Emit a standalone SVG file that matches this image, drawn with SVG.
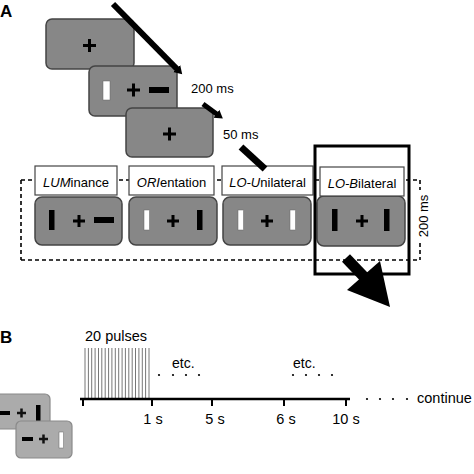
<svg xmlns="http://www.w3.org/2000/svg" width="474" height="474" viewBox="0 0 474 474">
<style>
  text { font-family: "Liberation Sans", Arial, sans-serif; fill: #000; }
  .gbox { fill: #878787; stroke: #444; stroke-width: 1.5; }
  .lbox { fill: #fff; stroke: #444; stroke-width: 1.2; }
  .sbox { fill: #ababab; stroke: #8a8a8a; stroke-width: 1.2; }
  .plus { stroke: #000; stroke-width: 3; fill: none; }
  .plus2 { stroke: #111; stroke-width: 2.5; fill: none; }
  .bk { fill: #000; }
  .wh { fill: #fff; stroke: #666; stroke-width: 0.5; }
  .lbl { font-size: 13px; text-anchor: middle; }
  .ax { font-size: 14.5px; text-anchor: middle; }
  .dash { stroke: #000; stroke-width: 1.6; stroke-dasharray: 4 3; fill: none; }
  .pulse { stroke: #777; stroke-width: 1; }
  .dot { fill: #000; }
  .tag { font-size: 17px; font-weight: bold; }
</style>
<defs>
  <marker id="head" markerUnits="userSpaceOnUse" markerWidth="12" markerHeight="12" refX="2" refY="5" orient="auto">
    <path d="M0,0 L8,5 L0,10 z" fill="#000"/>
  </marker>
</defs>

<rect width="474" height="474" fill="#fff"/>

<text class="tag" x="0" y="17">A</text>
<text class="tag" x="0" y="343">B</text>

<!-- dashed frame -->
<g id="dashed-frame">
  <line class="dash" x1="21" y1="180" x2="420" y2="180"/>
  <line class="dash" x1="21" y1="180" x2="21" y2="260"/>
  <line class="dash" x1="21" y1="260" x2="420" y2="260"/>
  <line class="dash" x1="420" y1="180" x2="420" y2="190"/>
  <line class="dash" x1="420" y1="243" x2="420" y2="260"/>
  <text transform="translate(428,216) rotate(-90)" style="font-size:13px;text-anchor:middle">200 ms</text>
</g>

<!-- sequence screens -->
<g id="screen1">
  <rect class="gbox" x="46" y="19" width="88" height="50" rx="6"/>
  <path class="plus" d="M83,45.5 H96 M89.5,39 V52"/>
</g>
<g id="screen2">
  <rect class="gbox" x="89" y="66" width="88" height="50" rx="6"/>
  <rect class="wh" x="103" y="81" width="7" height="19"/>
  <path class="plus" d="M127,90 H140 M133.5,83.5 V96.5"/>
  <rect class="bk" x="149" y="87" width="20" height="6"/>
</g>
<g id="screen3">
  <rect class="gbox" x="126" y="108" width="87" height="49" rx="6"/>
  <path class="plus" d="M163,134 H176 M169.5,127.5 V140.5"/>
</g>

<text x="191" y="93" style="font-size:13px">200 ms</text>
<text x="223" y="139" style="font-size:13px">50 ms</text>

<!-- conditions -->
<g id="cond-lum">
  <rect class="gbox" x="35" y="197" width="87" height="48" rx="7"/>
  <rect class="lbox" x="35" y="166" width="82" height="29"/>
  <text class="lbl" x="76" y="187"><tspan font-style="italic">LUM</tspan>inance</text>
  <rect class="bk" x="49" y="210" width="5.5" height="20"/>
  <path class="plus" d="M73,221 H85 M79,215 V227"/>
  <rect class="bk" x="94" y="217" width="20" height="6"/>
</g>
<g id="cond-ori">
  <rect class="gbox" x="129" y="197" width="88" height="48" rx="7"/>
  <rect class="lbox" x="129" y="166" width="85" height="29"/>
  <text class="lbl" x="171.5" y="187"><tspan font-style="italic">ORI</tspan>entation</text>
  <rect class="wh" x="144" y="210" width="5.5" height="20"/>
  <path class="plus" d="M167,221 H179 M173,215 V227"/>
  <rect class="bk" x="197" y="210" width="5.5" height="20"/>
</g>
<g id="cond-lo-uni">
  <rect class="gbox" x="223" y="197" width="88" height="48" rx="7"/>
  <rect class="lbox" x="222" y="166" width="91" height="29"/>
  <text class="lbl" x="267.5" y="187"><tspan font-style="italic">LO-U</tspan>nilateral</text>
  <rect class="wh" x="238" y="210" width="5.5" height="20"/>
  <path class="plus" d="M261,221 H273 M267,215 V227"/>
  <rect class="wh" x="290" y="210" width="5.5" height="20"/>
</g>
<g id="cond-lo-bi">
  <rect class="gbox" x="317" y="196" width="88" height="50" rx="7"/>
  <rect class="lbox" x="320" y="167" width="84" height="29"/>
  <text class="lbl" x="362" y="188"><tspan font-style="italic">LO-B</tspan>ilateral</text>
  <rect class="bk" x="332" y="209" width="5.5" height="22"/>
  <path class="plus" d="M356,221 H368 M362,215 V227"/>
  <rect class="bk" x="384" y="209" width="5.5" height="22"/>
  <rect x="315" y="146" width="94" height="128" fill="none" stroke="#000" stroke-width="3"/>
</g>

<!-- connectors -->
<g id="connectors">
  <line x1="113" y1="4" x2="178" y2="70" stroke="#000" stroke-width="6" marker-end="url(#head)"/>
  <line x1="203" y1="104" x2="218" y2="115" stroke="#000" stroke-width="5" marker-end="url(#head)"/>
  <line x1="241" y1="147" x2="265" y2="169" stroke="#000" stroke-width="7"/>
  <line x1="346" y1="258" x2="368" y2="281" stroke="#000" stroke-width="11"/>
  <polygon points="347,290 380,261 390,307" fill="#000"/>
</g>

<!-- timeline -->
<g id="timeline">
  <g id="pulses">
    <line class="pulse" x1="85" y1="348" x2="85" y2="399"/>
    <line class="pulse" x1="88.4" y1="348" x2="88.4" y2="399"/>
    <line class="pulse" x1="91.7" y1="348" x2="91.7" y2="399"/>
    <line class="pulse" x1="95.1" y1="348" x2="95.1" y2="399"/>
    <line class="pulse" x1="98.5" y1="348" x2="98.5" y2="399"/>
    <line class="pulse" x1="101.8" y1="348" x2="101.8" y2="399"/>
    <line class="pulse" x1="105.2" y1="348" x2="105.2" y2="399"/>
    <line class="pulse" x1="108.6" y1="348" x2="108.6" y2="399"/>
    <line class="pulse" x1="111.9" y1="348" x2="111.9" y2="399"/>
    <line class="pulse" x1="115.3" y1="348" x2="115.3" y2="399"/>
    <line class="pulse" x1="118.7" y1="348" x2="118.7" y2="399"/>
    <line class="pulse" x1="122.1" y1="348" x2="122.1" y2="399"/>
    <line class="pulse" x1="125.4" y1="348" x2="125.4" y2="399"/>
    <line class="pulse" x1="128.8" y1="348" x2="128.8" y2="399"/>
    <line class="pulse" x1="132.2" y1="348" x2="132.2" y2="399"/>
    <line class="pulse" x1="135.5" y1="348" x2="135.5" y2="399"/>
    <line class="pulse" x1="138.9" y1="348" x2="138.9" y2="399"/>
    <line class="pulse" x1="142.3" y1="348" x2="142.3" y2="399"/>
    <line class="pulse" x1="145.6" y1="348" x2="145.6" y2="399"/>
    <line class="pulse" x1="149" y1="348" x2="149" y2="399"/>
  </g>
  <line x1="80" y1="399" x2="350" y2="399" stroke="#000" stroke-width="2.5"/>
  <path d="M83,399 V406 M152,399 V406 M212,399 V406 M284,399 V406 M346,399 V406" stroke="#000" stroke-width="2"/>
  <text x="85" y="341" style="font-size:14.5px">20 pulses</text>
  <text x="172" y="368" style="font-size:14px">etc.</text>
  <text x="293" y="368" style="font-size:14px">etc.</text>
  <circle class="dot" cx="159" cy="375" r="1.1"/>
  <circle class="dot" cx="173" cy="375" r="1.1"/>
  <circle class="dot" cx="186" cy="375" r="1.1"/>
  <circle class="dot" cx="199" cy="375" r="1.1"/>
  <circle class="dot" cx="293" cy="375" r="1.1"/>
  <circle class="dot" cx="306" cy="375" r="1.1"/>
  <circle class="dot" cx="319" cy="375" r="1.1"/>
  <circle class="dot" cx="332" cy="375" r="1.1"/>
  <circle class="dot" cx="367" cy="399" r="1.1"/>
  <circle class="dot" cx="380" cy="399" r="1.1"/>
  <circle class="dot" cx="393" cy="399" r="1.1"/>
  <circle class="dot" cx="407" cy="399" r="1.1"/>
  <text class="ax" x="153" y="424">1 s</text>
  <text class="ax" x="215" y="424">5 s</text>
  <text class="ax" x="286" y="424">6 s</text>
  <text class="ax" x="346" y="424">10 s</text>
  <text x="417" y="403" style="font-size:14.5px">continue</text>
</g>

<!-- small screens -->
<g id="small-screen1">
  <rect class="sbox" x="-6" y="394" width="56" height="35" rx="5"/>
  <rect class="bk" x="0" y="411" width="10" height="4"/>
  <path class="plus2" d="M17,413 H26 M21.5,408.5 V417.5"/>
  <rect class="bk" x="36" y="405" width="4.5" height="17"/>
</g>
<g id="small-screen2">
  <rect class="sbox" x="16" y="421" width="56" height="37" rx="5"/>
  <rect class="bk" x="22" y="437" width="11" height="4"/>
  <path class="plus2" d="M39,439 H48 M43.5,434.5 V443.5"/>
  <rect class="wh" x="59" y="432" width="4.5" height="16"/>
</g>
</svg>
